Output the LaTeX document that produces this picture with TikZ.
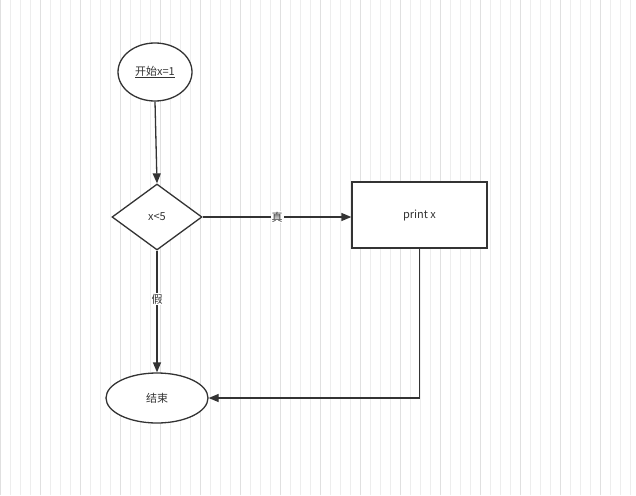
\documentclass[tikz,border=0pt]{standalone}
\usepackage{fontspec}
\setmainfont{Noto Sans CJK SC}
\usetikzlibrary{shapes.geometric,arrows.meta}
\definecolor{ln}{HTML}{333333}
\tikzset{
 conn/.style={draw=ln,line width=1.3pt,-{Triangle[length=10pt,width=8pt]}},
 lbl/.style={fill=white,inner sep=1pt,font=\fontsize{11}{13}\selectfont,text=ln},
 shp/.style={draw=ln,line width=1.3pt,fill=white,font=\fontsize{11}{13}\selectfont,text=ln,inner sep=0pt}
}
\begin{document}
\begin{tikzpicture}[x=1pt,y=-1pt]
\useasboundingbox (0,0) rectangle (636,495);
\fill[white] (0,0) rectangle (636,495);
\draw[color=black!7,line width=0.5pt] (0,0) grid[step=10] (636,495);
\draw[color=black!12,line width=0.6pt] (0,0) grid[step=40] (636,495);
\node[shp,ellipse,minimum width=74pt,minimum height=58pt] (s) at (155,72) {\underline{开始x=1}};
\node[shp,diamond,minimum width=90pt,minimum height=66pt] (d) at (157,217) {x<5};
\node[shp,rectangle,minimum width=135pt,minimum height=66pt] (p) at (419.5,215) {print x};
\node[shp,ellipse,minimum width=102pt,minimum height=50pt] (e) at (157,398) {结束};
\coordinate (c) at (p.south |- e.east);
\draw[conn] (s.south) -- (d.north);
\draw[conn] (d.east) -- node[lbl]{真} (d.east -| p.west);
\draw[conn] (d.south) -- node[lbl,pos=0.4]{假} (e.north);
\draw[conn] (p.south) -- (c) -- (e.east);
\end{tikzpicture}
\end{document}
